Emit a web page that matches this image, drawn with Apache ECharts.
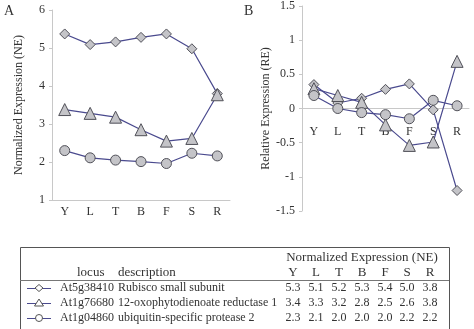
<!DOCTYPE html>
<html>
<head>
<meta charset="utf-8">
<script src="https://cdn.jsdelivr.net/npm/echarts@6/dist/echarts.min.js"></script>
<style>
  html, body { margin: 0; padding: 0; background: #fff; }
  #chart { width: 474px; height: 329px; }
</style>
</head>
<body>
<div id="chart"></div>
<script>
// tissues
const categories = ["Y", "L", "T", "B", "F", "S", "R"];

// panel A - normalized expression
const neRubisco = [5.37, 5.09, 5.16, 5.28, 5.37, 4.98, 3.80];
const neOpr1 = [3.38, 3.28, 3.18, 2.85, 2.55, 2.62, 3.77];
const neUbp2 = [2.30, 2.11, 2.05, 2.01, 1.96, 2.23, 2.16];

// panel B - relative expression
const reRubisco = [0.35, 0.08, 0.15, 0.28, 0.36, -0.02, -1.2];
const reOpr1 = [0.29, 0.19, 0.09, -0.24, -0.54, -0.49, 0.69];
const reUbp2 = [0.19, 0.0, -0.06, -0.09, -0.15, 0.12, 0.04];

// table
const loci = ["At5g38410", "At1g76680", "At1g04860"];
const descriptions = ["Rubisco small subunit", "12-oxophytodienoate reductase 1", "ubiquitin-specific protease 2"];
const tableRubisco = [5.3, 5.1, 5.2, 5.3, 5.4, 5.0, 3.8];
const tableOpr1 = [3.4, 3.3, 3.2, 2.8, 2.5, 2.6, 3.8];
const tableUbp2 = [2.3, 2.1, 2.0, 2.0, 2.0, 2.2, 2.2];
const symbols = ["diamond", "triangle", "circle"];

const font = "Liberation Serif";
const lineColor = "#4a4a8e";
const markFill = "#c4c4c8";
const markBorder = "#505058";
const axisGray = "#c8c8c8";
const tf = "12px " + font;

const chart = echarts.init(document.getElementById("chart"));

function mkSeries(name, data, sym, idx) {
  return {
    name: name,
    type: "line",
    xAxisIndex: idx,
    yAxisIndex: idx,
    data: data,
    symbol: sym,
    symbolSize: sym === "triangle" ? 12 : 10,
    lineStyle: { color: lineColor, width: 1.2 },
    itemStyle: { color: markFill, borderColor: markBorder, borderWidth: 1 },
    emphasis: { disabled: true },
    animation: false
  };
}

const axisLabelStyle = { color: "#333", fontFamily: font, fontSize: 12 };

// table graphics
const colX = [293, 316, 339, 362, 385, 407, 430];
const rowY = [288, 303, 318];
const tableRows = [tableRubisco, tableOpr1, tableUbp2];
const graphics = [
  { type: "rect", shape: { x: 20.5, y: 247.5, width: 429, height: 100 }, style: { fill: "#fff", stroke: "#555", lineWidth: 1 } },
  { type: "line", shape: { x1: 20, y1: 280.5, x2: 449, y2: 280.5 }, style: { stroke: "#777", lineWidth: 1 } },
  { type: "text", x: 362, y: 258, style: { text: "Normalized Expression (NE)", font: "13px " + font, fill: "#333", align: "center", verticalAlign: "middle" } },
  { type: "text", x: 77, y: 273, style: { text: "locus", font: "13px " + font, fill: "#333", align: "left", verticalAlign: "middle" } },
  { type: "text", x: 118, y: 273, style: { text: "description", font: "13px " + font, fill: "#333", align: "left", verticalAlign: "middle" } }
];
categories.forEach((c, i) => {
  graphics.push({ type: "text", x: colX[i], y: 273, style: { text: c, font: "13px " + font, fill: "#333", align: "center", verticalAlign: "middle" } });
});
tableRows.forEach((row, r) => {
  const y = rowY[r];
  graphics.push({ type: "line", shape: { x1: 27, y1: y + 0.5, x2: 51, y2: y + 0.5 }, style: { stroke: lineColor, lineWidth: 1 } });
  if (symbols[r] === "diamond") {
    graphics.push({ type: "polygon", shape: { points: [[39, y - 3.5], [43, y], [39, y + 3.5], [35, y]] }, style: { fill: "#fff", stroke: "#555", lineWidth: 1 } });
  } else if (symbols[r] === "triangle") {
    graphics.push({ type: "polygon", shape: { points: [[39, y - 4], [43.5, y + 3], [34.5, y + 3]] }, style: { fill: "#fff", stroke: "#555", lineWidth: 1 } });
  } else {
    graphics.push({ type: "circle", shape: { cx: 39, cy: y, r: 3.5 }, style: { fill: "#fff", stroke: "#555", lineWidth: 1 } });
  }
  graphics.push({ type: "text", x: 60, y: y, style: { text: loci[r], font: tf, fill: "#333", align: "left", verticalAlign: "middle" } });
  graphics.push({ type: "text", x: 118, y: y, style: { text: descriptions[r], font: tf, fill: "#333", align: "left", verticalAlign: "middle" } });
  row.forEach((v, i) => {
    graphics.push({ type: "text", x: colX[i], y: y, style: { text: v.toFixed(1), font: tf, fill: "#333", align: "center", verticalAlign: "middle" } });
  });
});
graphics.push({ type: "text", x: 4, y: 4, style: { text: "A", font: "14px " + font, fill: "#333" } });
graphics.push({ type: "text", x: 244, y: 4, style: { text: "B", font: "14px " + font, fill: "#333" } });

const option = {
  animation: false,
  grid: [
    { left: 52, top: 10, width: 178, height: 190 },
    { left: 302, top: 5, width: 167, height: 206 }
  ],
  xAxis: [
    {
      gridIndex: 0, type: "category", data: categories,
      axisLine: { lineStyle: { color: axisGray } },
      axisTick: { inside: true, length: 3, lineStyle: { color: axisGray } },
      axisLabel: Object.assign({ margin: 6 }, axisLabelStyle)
    },
    {
      // pinned to the zero line of panel B (grid height 206, range -1.5..1.5)
      gridIndex: 1, type: "category", data: categories, position: "bottom", offset: -103,
      axisLine: { onZero: false, lineStyle: { color: axisGray } },
      axisTick: { show: false },
      axisLabel: Object.assign({ margin: 18 }, axisLabelStyle)
    }
  ],
  yAxis: [
    {
      gridIndex: 0, type: "value", min: 1, max: 6, interval: 1,
      name: "Normalized Expression (NE)", nameLocation: "middle", nameGap: 27,
      nameTextStyle: { color: "#333", fontFamily: font, fontSize: 12 },
      axisLine: { show: true, lineStyle: { color: axisGray } },
      axisTick: { show: true, length: 3, lineStyle: { color: axisGray } },
      splitLine: { show: false },
      axisLabel: Object.assign({ margin: 7 }, axisLabelStyle)
    },
    {
      gridIndex: 1, type: "value", min: -1.5, max: 1.5, interval: 0.5,
      name: "Relative Expression (RE)", nameLocation: "middle", nameGap: 30,
      nameTextStyle: { color: "#333", fontFamily: font, fontSize: 12 },
      axisLine: { show: true, lineStyle: { color: axisGray } },
      axisTick: { show: true, length: 3, lineStyle: { color: axisGray } },
      splitLine: { show: false },
      axisLabel: Object.assign({ margin: 7 }, axisLabelStyle)
    }
  ],
  series: [
    mkSeries("At5g38410", neRubisco, "diamond", 0),
    mkSeries("At1g76680", neOpr1, "triangle", 0),
    mkSeries("At1g04860", neUbp2, "circle", 0),
    mkSeries("At5g38410", reRubisco, "diamond", 1),
    mkSeries("At1g76680", reOpr1, "triangle", 1),
    mkSeries("At1g04860", reUbp2, "circle", 1)
  ],
  graphic: graphics
};

chart.setOption(option);
</script>
</body>
</html>
